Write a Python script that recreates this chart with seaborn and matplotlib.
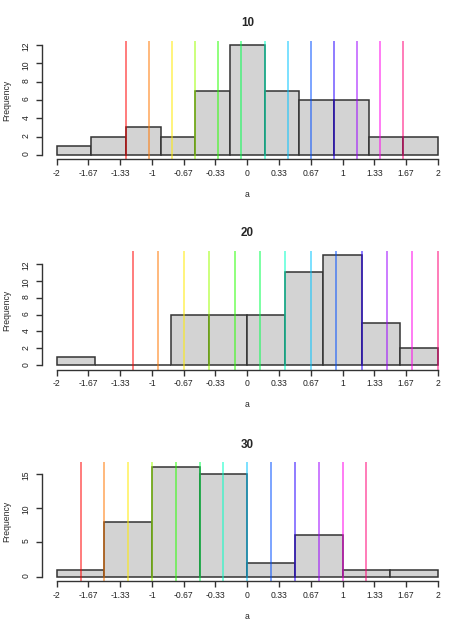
import colorsys

import matplotlib
matplotlib.use("Agg")
import matplotlib.pyplot as plt
import pandas as pd
import seaborn as sns

# values (n = 50 in every panel)
titles = ["10", "20", "30"]

edges_10 = [-2, -1.636, -1.273, -0.909, -0.545, -0.182, 0.182, 0.545, 0.909, 1.273, 1.636, 2]
counts_10 = [1, 2, 3, 2, 7, 12, 7, 6, 6, 2, 2]
lines_10 = [-1.273, -1.030, -0.788, -0.545, -0.303, -0.061, 0.182, 0.424, 0.667,
            0.909, 1.152, 1.394, 1.636]

edges_20 = [-2, -1.6, -1.2, -0.8, -0.4, 0, 0.4, 0.8, 1.2, 1.6, 2]
counts_20 = [1, 0, 0, 6, 6, 6, 11, 13, 5, 2]
lines_20 = [-1.2, -0.933, -0.667, -0.4, -0.133, 0.133, 0.4, 0.667, 0.933,
            1.2, 1.467, 1.733, 2.0]

edges_30 = [-2, -1.5, -1, -0.5, 0, 0.5, 1, 1.5, 2]
counts_30 = [1, 8, 16, 15, 2, 6, 1, 1]
lines_30 = [-1.75, -1.5, -1.25, -1.0, -0.75, -0.5, -0.25, 0.0, 0.25,
            0.5, 0.75, 1.0, 1.25]

yticks_10 = [0, 2, 4, 6, 8, 10, 12]
yticks_20 = [0, 2, 4, 6, 8, 10, 12]
yticks_30 = [0, 5, 10, 15]

xticks = [-2, -5 / 3, -4 / 3, -1, -2 / 3, -1 / 3, 0, 1 / 3, 2 / 3, 1, 4 / 3, 5 / 3, 2]
xtick_labels = ["-2", "-1.67", "-1.33", "-1", "-0.67", "-0.33", "0",
                "0.33", "0.67", "1", "1.33", "1.67", "2"]

panels = [
    (titles[0], edges_10, counts_10, lines_10, yticks_10, 12),
    (titles[1], edges_20, counts_20, lines_20, yticks_20, 13),
    (titles[2], edges_30, counts_30, lines_30, yticks_30, 16),
]

# R style rainbow(13)
line_colors = [colorsys.hsv_to_rgb(k / 13, 1, 1) for k in range(13)]

sns.set_style("ticks")
plt.rcParams['font.family'] = ['Liberation Sans', 'DejaVu Sans']

W, H = 474, 632
fig = plt.figure(figsize=(W / 100, H / 100), dpi=100)
ink = "#333333"

tops = [40.7, 251.0, 462.3]
ax_h = 118.6
ax_l, ax_w = 41.5, 411.5

for (title, edges, counts, vlines, yt, ymax), top in zip(panels, tops):
    ax = fig.add_axes([ax_l / W, 1 - (top + ax_h) / H, ax_w / W, ax_h / H])
    df = pd.DataFrame({
        "a": [(edges[i] + edges[i + 1]) / 2 for i in range(len(counts))],
        "n": counts,
    })
    sns.histplot(data=df, x="a", weights="n", bins=edges, color="#d3d3d3",
                 edgecolor=ink, linewidth=1.1, alpha=1, ax=ax)
    for x, c in zip(vlines, line_colors):
        ax.axvline(x, color=c, alpha=0.6, lw=1.2)

    ax.set_xlim(-2.16, 2.16)
    ax.set_ylim(-0.04 * ymax, 1.04 * ymax)
    ax.set_xticks(xticks)
    ax.set_xticklabels(xtick_labels)
    ax.set_yticks(yt)
    ax.spines[['top', 'right']].set_visible(False)
    ax.spines['left'].set_bounds(yt[0], yt[-1])
    ax.spines['bottom'].set_bounds(-2, 2)
    for s in ['left', 'bottom']:
        ax.spines[s].set_color(ink)
        ax.spines[s].set_linewidth(1.0)
    ax.tick_params(axis='both', direction='out', length=4, width=1.0,
                   color=ink, labelsize=6.2, labelcolor="#222222")
    ax.tick_params(axis='y', labelrotation=90, pad=4)
    ax.tick_params(axis='x', pad=3)

    ax.set_title(title, fontsize=8.4, fontweight='bold', pad=10.6)
    ax.set_xlabel("a", fontsize=6.2)
    ax.set_ylabel("Frequency", fontsize=6.2)
    ax.xaxis.set_label_coords(0.5, -0.26)
    ax.yaxis.set_label_coords(-0.074, 0.5)

fig.savefig("out.png", dpi=100)
